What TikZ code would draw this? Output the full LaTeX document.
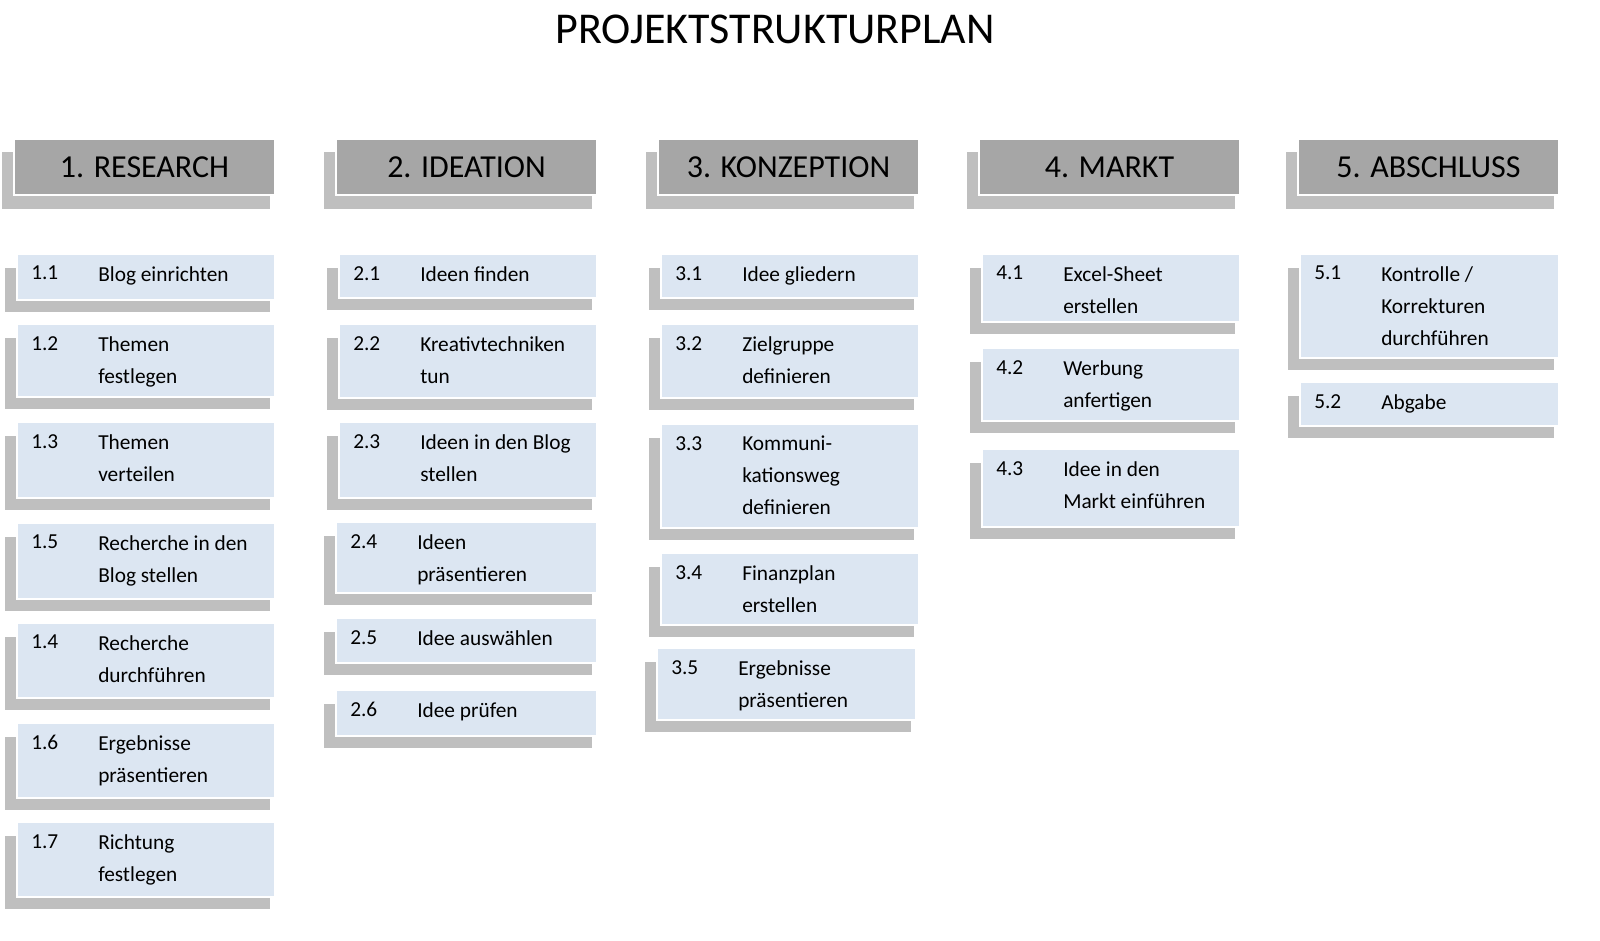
\documentclass[tikz,border=0pt]{standalone}
\usepackage{fontspec}
\setmainfont{Carlito}
\definecolor{hdr}{HTML}{A6A6A6}
\definecolor{shd}{HTML}{BFBFBF}
\definecolor{itm}{HTML}{DCE6F2}
\tikzset{x=0.75pt,y=-0.75pt,
 shadowbox/.style={fill=shd,draw=none},
 hdrbox/.style={fill=hdr,draw=white,line width=1pt},
 itmbox/.style={fill=itm,draw=white,line width=1pt},
 itxt/.style={anchor=north west,inner sep=0pt,font=\fontsize{16}{24}\selectfont,align=left},
 htxt/.style={font=\fontsize{24}{28}\selectfont}}
\newcommand{\hbx}[4]{%
 \fill[shadowbox] (#1-12,#2+13) rectangle (#3-5,#2+70);
 \draw[hdrbox] (#1,#2) rectangle (#3,#2+56);
 \node[htxt] (h#4) at ({(#1+#3)/2},#2+28) {#4};}
\newcommand{\ibx}[6]{%
 \fill[shadowbox] (#1-12,#2+14) rectangle (#3-5,#4+12);
 \draw[itmbox] (#1,#2) rectangle (#3,#4);
 \node[itxt] (n#5) at (#1+14,#2+12) {#5};
 \node[itxt] (t#5) at (#1+81,#2+12) {#6};}
\begin{document}
\begin{tikzpicture}
\path[use as bounding box,fill=white] (0,0) rectangle (1600,941);
\node[font=\fontsize{33}{38}\selectfont] (title) at (775,29) {PROJEKTSTRUKTURPLAN};
\hbx{14}{139}{275}{1. RESEARCH}
\hbx{336}{139}{597}{2. IDEATION}
\hbx{658}{139}{919}{3. KONZEPTION}
\hbx{979}{139}{1240}{4. MARKT}
\hbx{1298}{139}{1559}{5. ABSCHLUSS}
\ibx{17}{254}{275}{300}{1.1}{Blog einrichten}
\ibx{17}{324}{275}{397}{1.2}{Themen\\festlegen}
\ibx{17}{422}{275}{498}{1.3}{Themen\\verteilen}
\ibx{17}{523}{275}{599}{1.5}{Recherche in den\\Blog stellen}
\ibx{17}{623}{275}{698}{1.4}{Recherche\\durchführen}
\ibx{17}{723}{275}{798}{1.6}{Ergebnisse\\präsentieren}
\ibx{17}{822}{275}{897}{1.7}{Richtung\\festlegen}
\ibx{339}{254}{597}{298}{2.1}{Ideen finden}
\ibx{339}{324}{597}{398}{2.2}{Kreativtechniken\\tun}
\ibx{339}{422}{597}{498}{2.3}{Ideen in den Blog\\stellen}
\ibx{336}{522}{597}{593}{2.4}{Ideen\\präsentieren}
\ibx{336}{618}{597}{663}{2.5}{Idee auswählen}
\ibx{336}{690}{597}{736}{2.6}{Idee prüfen}
\ibx{661}{254}{919}{298}{3.1}{Idee gliedern}
\ibx{661}{324}{919}{398}{3.2}{Zielgruppe\\definieren}
\ibx{661}{424}{919}{528}{3.3}{Kommuni-\\kationsweg\\definieren}
\ibx{661}{553}{919}{625}{3.4}{Finanzplan\\erstellen}
\ibx{657}{648}{916}{720}{3.5}{Ergebnisse\\präsentieren}
\ibx{982}{254}{1240}{322}{4.1}{Excel-Sheet\\erstellen}
\ibx{982}{348}{1240}{421}{4.2}{Werbung\\anfertigen}
\ibx{982}{449}{1240}{527}{4.3}{Idee in den\\Markt einführen}
\ibx{1300}{254}{1559}{358}{5.1}{Kontrolle /\\Korrekturen\\durchführen}
\ibx{1300}{382}{1559}{426}{5.2}{Abgabe}
\end{tikzpicture}
\end{document}
